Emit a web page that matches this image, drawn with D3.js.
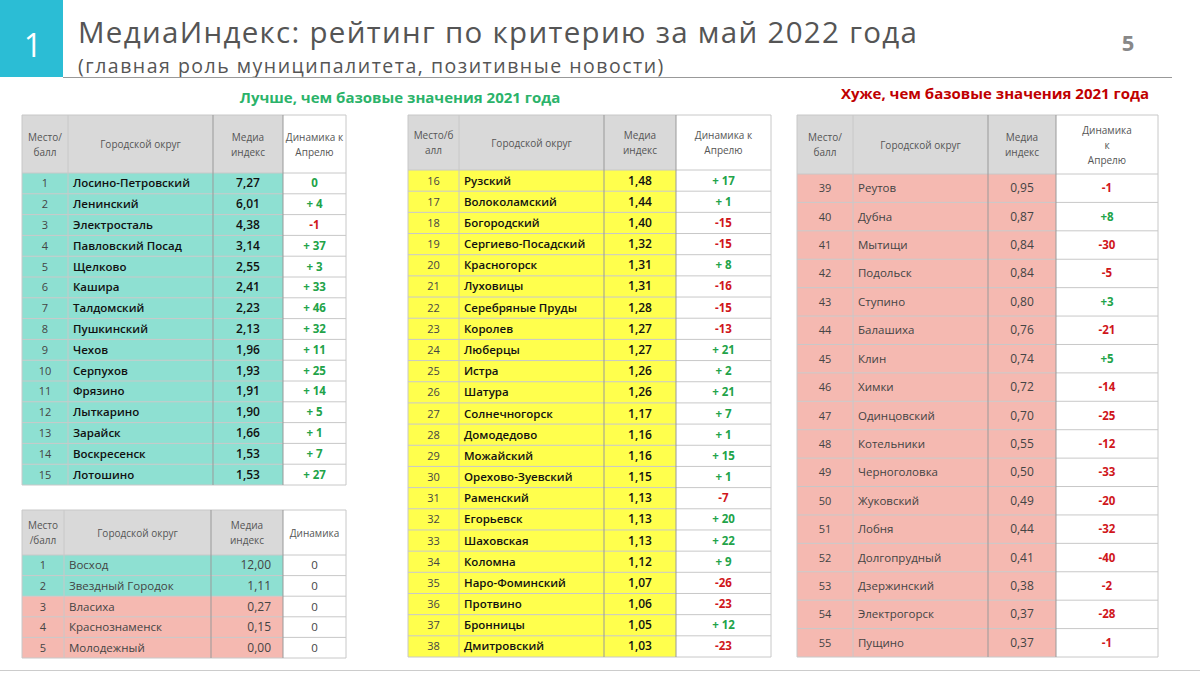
<!DOCTYPE html>
<html><head><meta charset="utf-8">
<script src="https://cdn.jsdelivr.net/npm/d3@7"></script>
<style>body{margin:0;background:#fff}svg{font-family:"Open Sans",sans-serif}</style>
</head><body><svg id="c" width="1200" height="676"></svg>
<script>
const t1Names=["Лосино-Петровский","Ленинский","Электросталь","Павловский Посад","Щелково","Кашира","Талдомский","Пушкинский","Чехов","Серпухов","Фрязино","Лыткарино","Зарайск","Воскресенск","Лотошино"];
const t1Index=["7,27","6,01","4,38","3,14","2,55","2,41","2,23","2,13","1,96","1,93","1,91","1,90","1,66","1,53","1,53"];
const t1Dyn=["0","+ 4","-1","+ 37","+ 3","+ 33","+ 46","+ 32","+ 11","+ 25","+ 14","+ 5","+ 1","+ 7","+ 27"];
const t2Names=["Восход","Звездный Городок","Власиха","Краснознаменск","Молодежный"];
const t2Index=["12,00","1,11","0,27","0,15","0,00"];
const t2Dyn=["0","0","0","0","0"];
const t3Names=["Рузский","Волоколамский","Богородский","Сергиево-Посадский","Красногорск","Луховицы","Серебряные Пруды","Королев","Люберцы","Истра","Шатура","Солнечногорск","Домодедово","Можайский","Орехово-Зуевский","Раменский","Егорьевск","Шаховская","Коломна","Наро-Фоминский","Протвино","Бронницы","Дмитровский"];
const t3Index=["1,48","1,44","1,40","1,32","1,31","1,31","1,28","1,27","1,27","1,26","1,26","1,17","1,16","1,16","1,15","1,13","1,13","1,13","1,12","1,07","1,06","1,05","1,03"];
const t3Dyn=["+ 17","+ 1","-15","-15","+ 8","-16","-15","-13","+ 21","+ 2","+ 21","+ 7","+ 1","+ 15","+ 1","-7","+ 20","+ 22","+ 9","-26","-23","+ 12","-23"];
const t4Names=["Реутов","Дубна","Мытищи","Подольск","Ступино","Балашиха","Клин","Химки","Одинцовский","Котельники","Черноголовка","Жуковский","Лобня","Долгопрудный","Дзержинский","Электрогорск","Пущино"];
const t4Index=["0,95","0,87","0,84","0,84","0,80","0,76","0,74","0,72","0,70","0,55","0,50","0,49","0,44","0,41","0,38","0,37","0,37"];
const t4Dyn=["-1","+8","-30","-5","+3","-21","+5","-14","-25","-12","-33","-20","-32","-40","-2","-28","-1"];

const svg=d3.select("#c");
const TEAL="#8ee0d2",YEL="#ffff4d",PINK="#f5b9b1",HG="#d9d9d9",GRN="#22a349",RED="#d0161b";
svg.append("rect").attr("x",0).attr("y",0).attr("width",63).attr("height",77).attr("fill","#2bbdd5");
svg.append("text").attr("x",33).attr("y",57).attr("text-anchor","middle").attr("fill","#fff").attr("font-size",32).text("1");
svg.append("text").attr("x",78).attr("y",43).attr("fill","#555").attr("font-size",29.5).attr("letter-spacing",1.3).text("МедиаИндекс: рейтинг по критерию за май 2022 года");
svg.append("text").attr("x",78).attr("y",73).attr("fill","#555").attr("font-size",19.5).attr("letter-spacing",1.5).text("(главная роль муниципалитета, позитивные новости)");
svg.append("line").attr("x1",63).attr("x2",1172).attr("y1",77.5).attr("y2",77.5).attr("stroke","#999");
svg.append("text").attr("x",1128).attr("y",51).attr("text-anchor","middle").attr("fill","#888").attr("font-size",22).attr("font-weight","bold").text("5");
svg.append("line").attr("x1",0).attr("x2",1200).attr("y1",670.5).attr("y2",670.5).attr("stroke","#ccc");
svg.append("text").attr("x",400).attr("y",103).attr("text-anchor","middle").attr("fill","#2bb36a").attr("font-size",15).attr("font-weight","bold").text("Лучше, чем базовые значения 2021 года");
svg.append("text").attr("x",995).attr("y",99).attr("text-anchor","middle").attr("fill","#c00000").attr("font-size",15).attr("font-weight","bold").text("Хуже, чем базовые значения 2021 года");

function table(o){
  const g=svg.append("g");
  const xs=o.cols;
  const n=o.names.length;
  const y=d3.scaleBand().domain(d3.range(n)).range([o.y1,o.y2]);
  const hdr=o.hdr;
  for(let c=0;c<4;c++){
    g.append("rect").attr("x",xs[c]).attr("y",o.y0).attr("width",xs[c+1]-xs[c]).attr("height",o.y1-o.y0).attr("fill",c<3?HG:"#fff");
    const lines=hdr[c];
    const cy=(o.y0+o.y1)/2, cx=(xs[c]+xs[c+1])/2;
    lines.forEach((l,i)=>g.append("text").attr("x",cx).attr("y",cy+(i-(lines.length-1)/2)*15+4).attr("text-anchor","middle").attr("font-size",o.hfs).attr("fill","#555").text(l));
  }
  d3.range(n).forEach(i=>{
    const fill=o.fill(i), yy=y(i), h=y.bandwidth(), cy=yy+h/2+4;
    g.append("rect").attr("x",xs[0]).attr("y",yy).attr("width",xs[3]-xs[0]).attr("height",h).attr("fill",fill);
    g.append("text").attr("x",(xs[0]+xs[1])/2).attr("y",cy).attr("text-anchor","middle").attr("font-size",11).attr("fill","#444").text(o.start+i);
    g.append("text").attr("x",xs[1]+5).attr("y",cy).attr("font-size",11.5).attr("font-weight",o.bold?"600":"400").attr("fill",o.bold?"#111":"#444").text(o.names[i]);
    g.append("text").attr("x",o.idxAlign=="end"?xs[3]-12:(xs[2]+xs[3])/2).attr("y",cy).attr("text-anchor",o.idxAlign=="end"?"end":"middle").attr("font-size",12).attr("font-weight",o.bold?"600":"400").attr("fill",o.bold?"#111":"#444").text(o.index[i]);
    const d=o.dyn[i];
    g.append("text").attr("x",(xs[3]+xs[4])/2).attr("y",cy).attr("text-anchor","middle").attr("font-size",11.5).attr("font-weight",o.dynColor?"bold":"400").attr("fill",o.dynColor?(d.startsWith("-")?RED:GRN):"#444").text(d);
  });
  const ys=[o.y0,...d3.range(n).map(i=>y(i)),o.y2];
  ys.forEach(v=>g.append("line").attr("x1",xs[0]).attr("x2",xs[4]).attr("y1",v).attr("y2",v).attr("stroke","#c8c8c8").attr("stroke-width",1));
  xs.forEach((v,c)=>g.append("line").attr("x1",v).attr("x2",v).attr("y1",o.y0).attr("y2",o.y2).attr("stroke",c==2||c==3?"#999":"#c8c8c8"));
}
const H1=[["Место/","балл"],["Городской округ"],["Медиа","индекс"],["Динамика к","Апрелю"]];
table({names:t1Names,index:t1Index,dyn:t1Dyn,start:1,cols:[22,68,213,283,346],y0:115,y1:173,y2:485,fill:()=>TEAL,hdr:H1,hfs:10,bold:true,dynColor:true});
table({names:t2Names,index:t2Index,dyn:t2Dyn,start:1,cols:[22,64,211,283,346],y0:510,y1:555,y2:658,fill:i=>i<2?TEAL:PINK,hdr:[["Место","/балл"],["Городской округ"],["Медиа","индекс"],["Динамика"]],hfs:10,bold:false,idxAlign:"end"});
table({names:t3Names,index:t3Index,dyn:t3Dyn,start:16,cols:[408,459,604,676,771],y0:115,y1:170,y2:657,fill:()=>YEL,hdr:[["Место/б","алл"],["Городской округ"],["Медиа","индекс"],["Динамика к","Апрелю"]],hfs:10,bold:true,dynColor:true});
table({names:t4Names,index:t4Index,dyn:t4Dyn,start:39,cols:[797,853,988,1056,1158],y0:115,y1:174,y2:657,fill:()=>PINK,hdr:[["Место/","балл"],["Городской округ"],["Медиа","индекс"],["Динамика","к","Апрелю"]],hfs:10,bold:false,dynColor:true});
</script></body></html>
